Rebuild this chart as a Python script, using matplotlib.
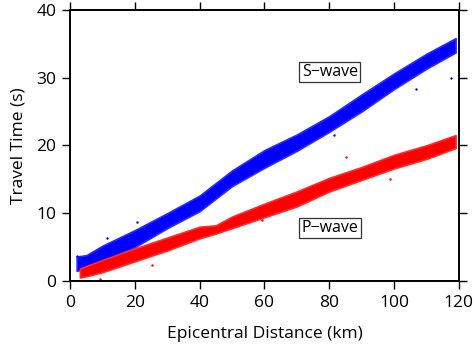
import matplotlib
matplotlib.use("Agg")
import matplotlib.pyplot as plt

# band edges (distance km, travel time s)
s_dist = [2, 5, 10, 20, 30, 40, 50, 60, 70, 80, 90, 100, 110, 119]
s_low = [1.5, 1.8, 3.0, 5.0, 7.8, 10.3, 14.0, 16.7, 19.2, 22.0, 25.0, 28.3, 31.3, 33.7]
s_high = [3.6, 3.8, 5.2, 7.5, 10.0, 12.6, 16.3, 19.3, 21.6, 24.3, 27.5, 30.6, 33.5, 35.8]

p_dist = [3, 5, 10, 20, 30, 40, 45, 50, 60, 70, 80, 90, 100, 110, 119]
p_low = [0.5, 0.7, 1.3, 2.9, 4.5, 6.3, 7.0, 7.8, 9.4, 11.0, 13.2, 14.9, 16.6, 18.0, 19.6]
p_high = [1.8, 2.2, 3.1, 4.8, 6.4, 8.0, 8.2, 9.5, 11.4, 13.2, 15.2, 16.8, 18.6, 20.0, 21.5]

# stray picks outside the main bands
s_out_x = [106.8, 117.6, 85.1, 81.5, 20.6, 11.4, 2.1]
s_out_y = [28.3, 30.0, 24.2, 21.5, 8.7, 6.3, 3.7]
p_out_x = [85.2, 98.8, 59.3, 9.3, 25.3]
p_out_y = [18.3, 15.0, 9.0, 0.3, 2.4]

plt.rcParams['font.family'] = ['Open Sans', 'DejaVu Sans']

fig = plt.figure(figsize=(4.74, 3.46), dpi=100)
ax = fig.add_axes([0.148, 0.188, 0.820, 0.784])

ax.fill_between(s_dist, s_low, s_high, color='#0000ff', lw=1.2, edgecolor='#2a2aff')
ax.fill_between(p_dist, p_low, p_high, color='#ff0000', lw=1.2, edgecolor='#ff2a2a')
ax.scatter(s_out_x, s_out_y, s=3, color='#0000ff', linewidths=0)
ax.scatter(p_out_x, p_out_y, s=3, color='#ff0000', linewidths=0)

box = dict(boxstyle='square,pad=0.15', fc='white', ec='#333333', lw=0.9)
ax.text(80.2, 30.8, 'S\u2212wave', ha='center', va='center', fontsize=11.5, bbox=box)
ax.text(80.2, 7.8, 'P\u2212wave', ha='center', va='center', fontsize=11.5, bbox=box)

ax.set_xlim(0, 120)
ax.set_ylim(0, 40)
ax.set_xticks([0, 20, 40, 60, 80, 100, 120])
ax.set_yticks([0, 10, 20, 30, 40])
ax.tick_params(direction='out', length=6, width=1, labelsize=12.5,
               top=True, right=True, pad=4)
for sp in ax.spines.values():
    sp.set_linewidth(1.4)

ax.set_xlabel('Epicentral Distance (km)', fontsize=12.5, labelpad=11)
ax.set_ylabel('Travel Time (s)', fontsize=12.5, labelpad=7)

fig.savefig('out.png', dpi=100)
